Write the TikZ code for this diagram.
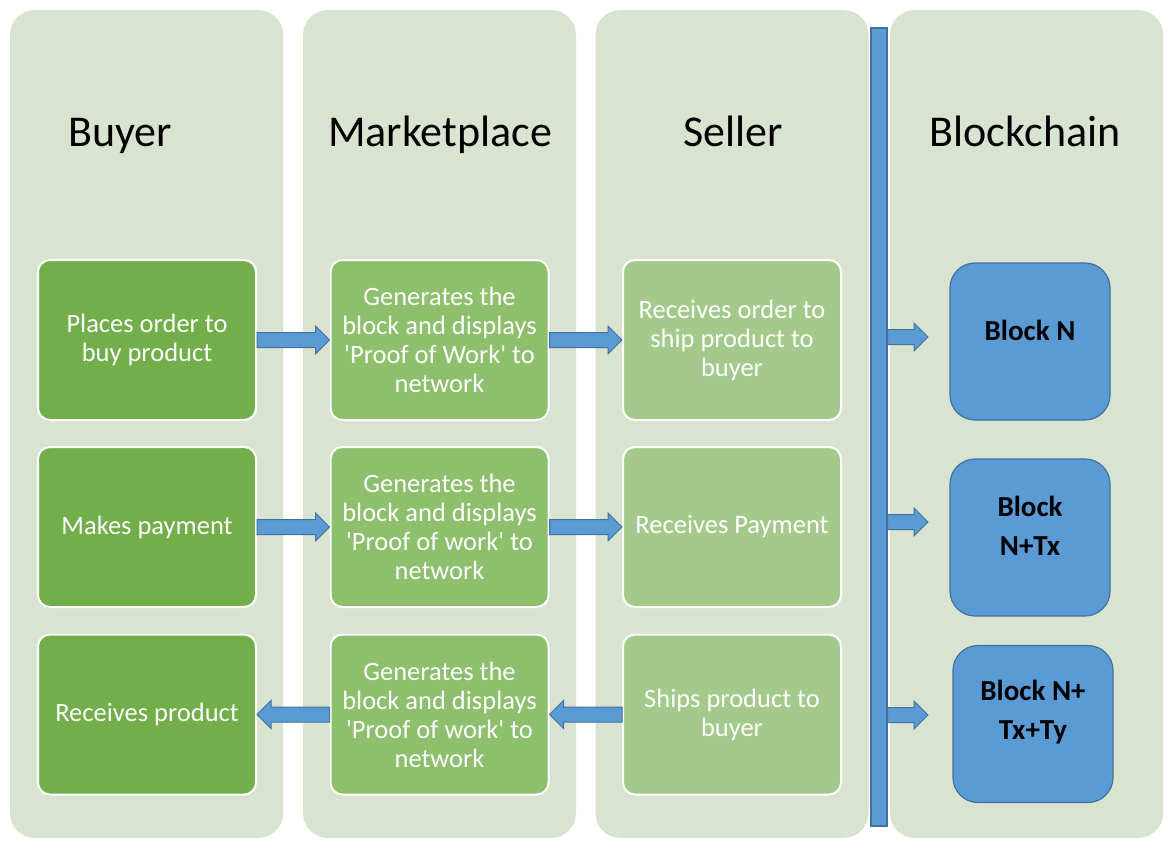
\documentclass[tikz,border=0pt]{standalone}
\usepackage{fontspec}
\setmainfont{Carlito}
\usetikzlibrary{calc}
\definecolor{colbg}{HTML}{D8E4CF}
\definecolor{gBuy}{HTML}{72AE4A}
\definecolor{gMkt}{HTML}{8DBF6D}
\definecolor{gSel}{HTML}{A4CA8B}
\definecolor{blueF}{HTML}{5B9BD5}
\definecolor{blueD}{HTML}{41719C}
\newcommand\barrow[2]{%
\filldraw[arr] let \p1=(#1), \p2=(#2), \n1={ifthenelse(\x2>\x1,1,-1)} in
 (\x1,\y1+7.5pt) -- (\x2-\n1*14pt,\y1+7.5pt) -- (\x2-\n1*14pt,\y1+14pt) -- (\x2,\y1)
 -- (\x2-\n1*14pt,\y1-14pt) -- (\x2-\n1*14pt,\y1-7.5pt) -- (\x1,\y1-7.5pt) -- cycle;}
\newcommand\sq{\textquotesingle}
\begin{document}
\begin{tikzpicture}[x=1pt,y=-1pt,
  col/.style={fill=colbg, rounded corners=25pt, minimum width=273pt, minimum height=828pt, inner sep=0pt},
  title/.style={font=\fontsize{44}{52}\selectfont, text=black, anchor=base, inner sep=0pt},
  box/.style={draw=white, line width=2pt, rounded corners=12pt, minimum width=218pt, minimum height=160pt, inner sep=0pt, text=white, align=center, font=\fontsize{26.5}{29}\selectfont},
  blk/.style={fill=blueF, draw=blueD, line width=1.2pt, rounded corners=25pt, minimum width=160pt, minimum height=157pt},
  blktext/.style={font=\bfseries\fontsize{29}{39}\selectfont, align=center, text=black},
  arr/.style={fill=blueF, draw=blueD, line width=1pt},
  bar/.style={fill=blueF, draw=blueD, line width=1.2pt, minimum width=16pt, minimum height=798pt, inner sep=0pt}]
\useasboundingbox[fill=white] (0,0) rectangle (1174,850);
% columns
\node[col] (cB) at (146.5,424) {};
\node[col] (cM) at (439.5,424) {};
\node[col] (cS) at (732,424) {};
\node[col] (cC) at (1026.5,424) {};
\node[title] (tB) at (120,147) {Buyer};
\node[title] (tM) at (440,147) {Marketplace};
\node[title] (tS) at (733,147) {Seller};
\node[title] (tC) at (1025,147) {Blockchain};
% buyer
\node[box, fill=gBuy] (b1) at (147,340) {Places order to\\buy product};
\node[box, fill=gBuy] (b2) at (147,527) {Makes payment};
\node[box, fill=gBuy] (b3) at (147,714.5) {Receives product};
% marketplace
\node[box, fill=gMkt] (m1) at (439.5,340) {Generates the\\block and displays\\\sq Proof of Work\sq\ to\\network};
\node[box, fill=gMkt] (m2) at (439.5,527) {Generates the\\block and displays\\\sq Proof of work\sq\ to\\network};
\node[box, fill=gMkt] (m3) at (439.5,714.5) {Generates the\\block and displays\\\sq Proof of work\sq\ to\\network};
% seller
\node[box, fill=gSel] (s1) at (732,340) {Receives order to\\ship product to\\buyer};
\node[box, fill=gSel] (s2) at (732,527) {Receives Payment};
\node[box, fill=gSel] (s3) at (732,714.5) {Ships product to\\buyer};
% bar
\node[bar] (bar) at (879,427) {};
% blocks
\node[blk] (k1) at (1030,341.5) {};
\node[blk] (k2) at (1030,537.5) {};
\node[blk] (k3) at (1033,724) {};
\node[blktext] (k1t) at (1030,330) {Block N};
\node[blktext] (k2t) at (1030,526) {Block\\N+Tx};
\node[blktext] (k3t) at (1033,712) {Block N+\\Tx+Ty};
\coordinate (e1) at (928,337);
\coordinate (e2) at (928,522);
\coordinate (e3) at (928,715);
% arrows
\barrow{b1.east}{m1.west}
\barrow{m1.east}{s1.west}
\barrow{b2.east}{m2.west}
\barrow{m2.east}{s2.west}
\barrow{m3.west}{b3.east}
\barrow{s3.west}{m3.east}
\barrow{bar.east |- e1}{e1}
\barrow{bar.east |- e2}{e2}
\barrow{bar.east |- e3}{e3}
\end{tikzpicture}
\end{document}
